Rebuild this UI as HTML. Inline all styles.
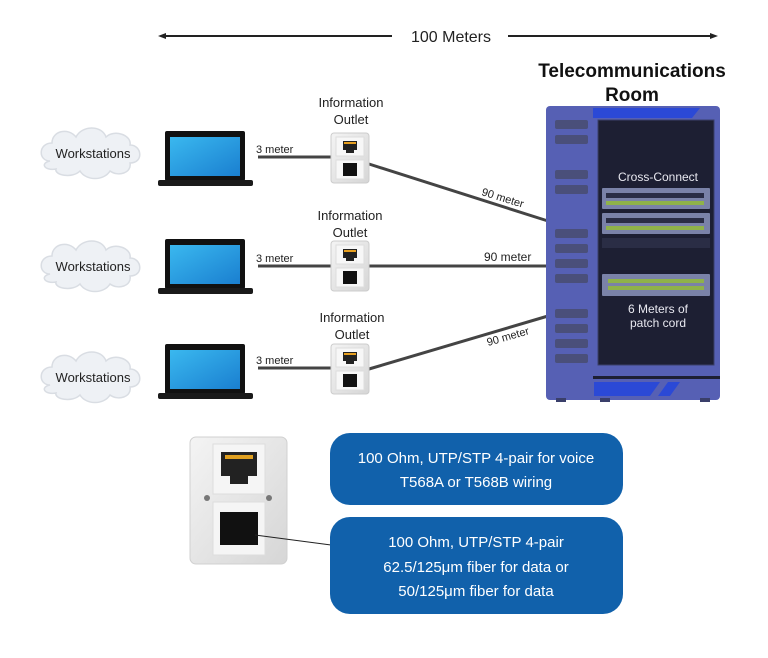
<!DOCTYPE html>
<html><head><meta charset="utf-8"><style>
html,body{margin:0;padding:0;background:#fff;width:768px;height:658px;overflow:hidden}
svg{display:block;font-family:"Liberation Sans",sans-serif}
</style></head><body>
<svg width="768" height="658" viewBox="0 0 768 658" xmlns="http://www.w3.org/2000/svg">
<defs>
<linearGradient id="scr" x1="0" y1="0" x2="1" y2="1"><stop offset="0" stop-color="#3ab8ef"/><stop offset="1" stop-color="#1a7fd0"/></linearGradient>
<linearGradient id="pl" x1="0" y1="0" x2="1" y2="1"><stop offset="0" stop-color="#f4f4f4"/><stop offset="1" stop-color="#d6d6d6"/></linearGradient>
<g id="cloud">
<path d="M10,32 C-2,32 -2,14 12,14 C12,2 28,-2 36,8 C42,-4 62,-4 66,8 C74,0 92,6 90,16 C102,16 104,34 90,34 C92,44 78,48 70,42 C64,52 46,52 40,42 C32,50 14,46 16,40 C4,42 0,34 10,32 Z" fill="#eef1f5" stroke="#d9dde3" stroke-width="1.5"/>
</g>
<g id="laptop">
<rect x="165" y="0" width="80" height="50" rx="2" fill="#111"/>
<rect x="170" y="6" width="70" height="39" fill="url(#scr)"/>
<rect x="158" y="49" width="95" height="6" rx="2" fill="#1a1a1a"/>
</g>
<g id="outlet">
<rect x="0" y="0" width="38" height="50" rx="3" fill="url(#pl)" stroke="#ccc"/>
<rect x="5" y="4" width="28" height="19" fill="#f7f7f7" stroke="#ddd"/>
<rect x="12" y="8" width="14" height="9" fill="#222"/><rect x="15" y="17" width="8" height="3" fill="#222"/>
<rect x="13" y="9" width="12" height="2" fill="#e8a020"/>
<rect x="5" y="27" width="28" height="19" fill="#f7f7f7" stroke="#ddd"/>
<rect x="12" y="30" width="14" height="13" fill="#111"/>
</g>
</defs>

<line x1="162" y1="36" x2="392" y2="36" stroke="#222" stroke-width="2"/>
<line x1="508" y1="36" x2="714" y2="36" stroke="#222" stroke-width="2"/>
<polygon points="158,36 166,33 166,39" fill="#222"/>
<polygon points="718,36 710,33 710,39" fill="#222"/>
<text x="451" y="42" font-size="16" text-anchor="middle" fill="#222">100 Meters</text>

<text x="632" y="77" font-size="19" font-weight="bold" text-anchor="middle" fill="#111">Telecommunications</text>
<text x="632" y="101" font-size="19" font-weight="bold" text-anchor="middle" fill="#111">Room</text>

<use href="#cloud" x="40" y="129"/>
<use href="#cloud" x="40" y="242"/>
<use href="#cloud" x="40" y="353"/>
<text x="93" y="158" font-size="13" text-anchor="middle" fill="#222">Workstations</text>
<text x="93" y="271" font-size="13" text-anchor="middle" fill="#222">Workstations</text>
<text x="93" y="382" font-size="13" text-anchor="middle" fill="#222">Workstations</text>

<use href="#laptop" x="0" y="131"/>
<use href="#laptop" x="0" y="239"/>
<use href="#laptop" x="0" y="344"/>

<g stroke="#444" stroke-width="3">
<line x1="258" y1="157" x2="332" y2="157"/>
<line x1="258" y1="266" x2="332" y2="266"/>
<line x1="258" y1="368" x2="332" y2="368"/>
<line x1="369" y1="164" x2="548" y2="221"/>
<line x1="369" y1="266" x2="548" y2="266"/>
<line x1="369" y1="369" x2="548" y2="316"/>
</g>
<g font-size="11" fill="#222">
<text x="256" y="153">3 meter</text>
<text x="256" y="262">3 meter</text>
<text x="256" y="364">3 meter</text>
<text x="481" y="195" transform="rotate(17 481 195)">90 meter</text>
<text x="484" y="261" font-size="12">90 meter</text>
<text x="488" y="346" transform="rotate(-16 488 346)">90 meter</text>
</g>

<use href="#outlet" x="331" y="133"/>
<use href="#outlet" x="331" y="241"/>
<use href="#outlet" x="331" y="344"/>
<g font-size="13" fill="#222" text-anchor="middle">
<text x="351" y="107">Information</text><text x="351" y="124">Outlet</text>
<text x="350" y="220">Information</text><text x="350" y="237">Outlet</text>
<text x="352" y="322">Information</text><text x="352" y="339">Outlet</text>
</g>

<rect x="546" y="106" width="174" height="294" rx="4" fill="#5660b4"/>
<polygon points="593,108 700,108 692,118 593,118" fill="#2b49d6"/>
<rect x="598" y="120" width="116" height="245" fill="#1d1f33" stroke="#3a3f6a"/>
<rect x="593" y="376" width="127" height="3" fill="#1d1f33"/>
<polygon points="594,382 660,382 650,396 594,396" fill="#2b49d6"/>
<polygon points="668,382 680,382 670,396 658,396" fill="#2b49d6"/>
<g fill="#4a4f7a">
<rect x="555" y="120" width="33" height="9" rx="2"/><rect x="555" y="135" width="33" height="9" rx="2"/>
<rect x="555" y="170" width="33" height="9" rx="2"/><rect x="555" y="185" width="33" height="9" rx="2"/>
<rect x="555" y="229" width="33" height="9" rx="2"/><rect x="555" y="244" width="33" height="9" rx="2"/>
<rect x="555" y="259" width="33" height="9" rx="2"/><rect x="555" y="274" width="33" height="9" rx="2"/>
<rect x="555" y="309" width="33" height="9" rx="2"/><rect x="555" y="324" width="33" height="9" rx="2"/>
<rect x="555" y="339" width="33" height="9" rx="2"/><rect x="555" y="354" width="33" height="9" rx="2"/>
</g>
<text x="658" y="181" font-size="12" fill="#e8e8f0" text-anchor="middle">Cross-Connect</text>
<g>
<rect x="602" y="188" width="108" height="21" rx="1" fill="#7a82a8"/>
<rect x="606" y="193" width="98" height="5" fill="#2a2d45"/><rect x="606" y="201" width="98" height="4" fill="#8fb24a"/>
<rect x="602" y="213" width="108" height="21" rx="1" fill="#7a82a8"/>
<rect x="606" y="218" width="98" height="5" fill="#2a2d45"/><rect x="606" y="226" width="98" height="4" fill="#8fb24a"/>
<rect x="602" y="238" width="108" height="10" fill="#2a2d45"/>
<rect x="602" y="274" width="108" height="22" rx="1" fill="#7a82a8"/>
<rect x="608" y="279" width="96" height="4" fill="#8fb24a"/><rect x="608" y="286" width="96" height="4" fill="#8fb24a"/>
</g>
<text x="658" y="313" font-size="12" fill="#e8e8f0" text-anchor="middle">6 Meters of</text>
<text x="658" y="327" font-size="12" fill="#e8e8f0" text-anchor="middle">patch cord</text>
<rect x="556" y="398" width="10" height="4" fill="#3a3f6a"/><rect x="600" y="398" width="10" height="4" fill="#3a3f6a"/><rect x="700" y="398" width="10" height="4" fill="#3a3f6a"/>

<rect x="190" y="437" width="97" height="127" rx="6" fill="url(#pl)" stroke="#d0d0d0"/>
<rect x="213" y="444" width="52" height="50" fill="#f5f5f5" stroke="#ddd"/>
<rect x="221" y="452" width="36" height="24" fill="#222"/><rect x="230" y="476" width="18" height="8" fill="#222"/>
<rect x="225" y="455" width="28" height="4" fill="#e0a020"/>
<rect x="213" y="502" width="52" height="53" fill="#f5f5f5" stroke="#ddd"/>
<rect x="220" y="512" width="38" height="33" fill="#111"/>
<circle cx="207" cy="498" r="3" fill="#777"/><circle cx="269" cy="498" r="3" fill="#777"/>
<line x1="255" y1="535" x2="331" y2="545" stroke="#222" stroke-width="1"/>

<rect x="330" y="433" width="293" height="72" rx="20" fill="#1161ab"/>
<rect x="330" y="517" width="293" height="97" rx="20" fill="#1161ab"/>
<g font-size="15" fill="#fff" text-anchor="middle">
<text x="476" y="463">100 Ohm, UTP/STP 4-pair for voice</text>
<text x="476" y="487">T568A or T568B wiring</text>
<text x="476" y="547">100 Ohm, UTP/STP 4-pair</text>
<text x="476" y="572">62.5/125μm fiber for data or</text>
<text x="476" y="596">50/125μm fiber for data</text>
</g>
</svg>
</body></html>
